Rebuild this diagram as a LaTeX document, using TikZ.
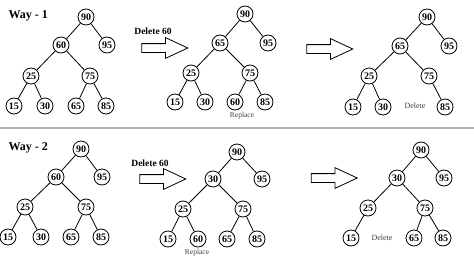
\documentclass[tikz,border=0pt]{standalone}
\usepackage{fontspec}
\setmainfont{Liberation Serif}
\usetikzlibrary{shapes.arrows}

\begin{document}
\begin{tikzpicture}[
    x=1pt, y=-1pt,
    key/.style={circle, draw, line width=0.8pt, minimum size=16pt, inner sep=0pt, font=\bfseries\fontsize{10}{10}\selectfont},
    link/.style={line width=0.8pt},
    way/.style={anchor=west, font=\bfseries\fontsize{12}{12}\selectfont},
    cmd/.style={font=\bfseries\fontsize{9.5}{9.5}\selectfont},
    note/.style={text=black!75, font=\fontsize{7.5}{7.5}\selectfont},
    bigarrow/.style={single arrow, draw, line width=0.8pt, inner sep=4pt, minimum height=46pt, single arrow head extend=6pt, single arrow tip angle=50}
]
    \useasboundingbox (0,0) rectangle (474,268);

    % Way 1
    \node[way] (way1) at (5,16) {Way - 1};
    \node[key] (a90) at (86,17) {90};
    \node[key] (a60) at (61,45) {60};
    \node[key] (a95) at (107,45) {95};
    \node[key] (a25) at (31,76) {25};
    \node[key] (a75) at (90,76) {75};
    \node[key] (a15) at (14,106) {15};
    \node[key] (a30) at (45,106) {30};
    \node[key] (a65) at (76,106) {65};
    \node[key] (a85) at (106,106) {85};

    \node[cmd] (del1) at (153,31) {Delete 60};
    \node[bigarrow] (arr1) at (160,48) {};

    \node[key] (b90) at (245,14) {90};
    \node[key] (b65) at (220,43) {65};
    \node[key] (b95) at (268,43) {95};
    \node[key] (b25) at (191,73) {25};
    \node[key] (b75) at (250,73) {75};
    \node[key] (b15) at (175,102) {15};
    \node[key] (b30) at (205,102) {30};
    \node[key] (b60) at (235,102) {60};
    \node[key] (b85) at (265,102) {85};
    \node[note] (rep1) at (242,116) {Replace};

    \node[bigarrow] (arr2) at (325,49) {};

    \node[key] (c90) at (427,17) {90};
    \node[key] (c65) at (400,46) {65};
    \node[key] (c95) at (449,46) {95};
    \node[key] (c25) at (369,76) {25};
    \node[key] (c75) at (429,76) {75};
    \node[key] (c15) at (353,107) {15};
    \node[key] (c30) at (383,107) {30};
    \node[key] (c85) at (445,107) {85};
    \node[note, font=\fontsize{8}{8}\selectfont] (gone1) at (415,106) {Delete};

    \foreach \p/\c in {a90/a60, a90/a95, a60/a25, a60/a75, a25/a15, a25/a30, a75/a65, a75/a85,
                       b90/b65, b90/b95, b65/b25, b65/b75, b25/b15, b25/b30, b75/b60, b75/b85,
                       c90/c65, c90/c95, c65/c25, c65/c75, c25/c15, c25/c30, c75/c85}
        \draw[link] (\p) -- (\c);

    % separator
    \draw[line width=1.5pt, black!30] (0,128) -- (474,128);

    % Way 2
    \node[way] (way2) at (5,148) {Way - 2};
    \node[key] (d90) at (81,149) {90};
    \node[key] (d60) at (56,177) {60};
    \node[key] (d95) at (102,177) {95};
    \node[key] (d25) at (25,207) {25};
    \node[key] (d75) at (86,207) {75};
    \node[key] (d15) at (8,237) {15};
    \node[key] (d30) at (41,237) {30};
    \node[key] (d65) at (71,237) {65};
    \node[key] (d85) at (101,237) {85};

    \node[cmd] (del2) at (150,163) {Delete 60};
    \node[bigarrow] (arr3) at (158,179) {};

    \node[key] (e90) at (237,152) {90};
    \node[key] (e30) at (213,179) {30};
    \node[key] (e95) at (262,179) {95};
    \node[key] (e25) at (183,209) {25};
    \node[key] (e75) at (243,209) {75};
    \node[key] (e15) at (168,239) {15};
    \node[key] (e60) at (198,239) {60};
    \node[key] (e65) at (227,239) {65};
    \node[key] (e85) at (257,239) {85};
    \node[note] (rep2) at (197,253) {Replace};

    \node[bigarrow] (arr4) at (329.5,178) {};

    \node[key] (f90) at (421,150) {90};
    \node[key] (f30) at (397,178) {30};
    \node[key] (f95) at (444,178) {95};
    \node[key] (f25) at (368,208) {25};
    \node[key] (f75) at (425,208) {75};
    \node[key] (f15) at (351,238) {15};
    \node[key] (f65) at (414,238) {65};
    \node[key] (f85) at (443,238) {85};
    \node[note, font=\fontsize{8}{8}\selectfont] (gone2) at (382,238) {Delete};

    \foreach \p/\c in {d90/d60, d90/d95, d60/d25, d60/d75, d25/d15, d25/d30, d75/d65, d75/d85,
                       e90/e30, e90/e95, e30/e25, e30/e75, e25/e15, e25/e60, e75/e65, e75/e85,
                       f90/f30, f90/f95, f30/f25, f30/f75, f25/f15, f75/f65, f75/f85}
        \draw[link] (\p) -- (\c);
\end{tikzpicture}
\end{document}
